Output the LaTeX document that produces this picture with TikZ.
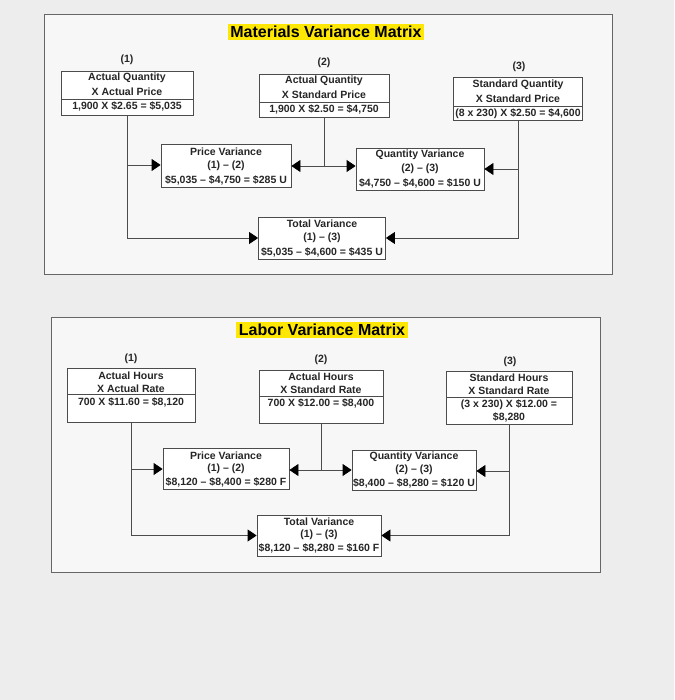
\documentclass[tikz,border=0pt]{standalone}
\usepackage{fontspec}
\setmainfont{Liberation Sans}
\usetikzlibrary{arrows.meta}
\begin{document}
\begin{tikzpicture}[x=1pt,y=-1pt,
  box/.style={draw=black!70,fill=white,line width=0.8pt,inner sep=0pt},
  frame/.style={draw=black!60,fill=white!97!black,line width=0.8pt},
  txt/.style={font=\fontsize{10.5}{12}\selectfont\bfseries,text=black!85,inner sep=0pt,align=center},
  ttl/.style={font=\fontsize{16}{18}\selectfont\bfseries,fill=yellow!90!orange,inner sep=2.5pt},
  conn/.style={draw=black!70,line width=0.8pt},
  arr/.style={conn,-{Triangle[length=9pt,width=12pt,fill=black,color=black]}}]
\useasboundingbox[fill=black!7] (0,0) rectangle (674,700);
% ================= Materials =================
\draw[frame] (44,14) rectangle (612,274);
\node[ttl] (mt) at (326,32) {Materials Variance Matrix};
\node[txt] (ml1) at (127,60) {(1)};
\node[txt] (ml2) at (324,63) {(2)};
\node[txt] (ml3) at (519,67) {(3)};
\node[box,minimum width=132,minimum height=44] (m1) at (127,93) {};
\draw[conn] (61,99) -- (193,99);
\node[txt] at (127,78) {Actual Quantity};
\node[txt] at (127,92) {X Actual Price};
\node[txt] at (127,106.5) {1,900 X \$2.65 = \$5,035};
\node[box,minimum width=130,minimum height=43] (m2) at (324,96) {};
\draw[conn] (259,102) -- (389,102);
\node[txt] at (324,81) {Actual Quantity};
\node[txt] at (324,95) {X Standard Price};
\node[txt] at (324,109.5) {1,900 X \$2.50 = \$4,750};
\node[box,minimum width=129,minimum height=43] (m3) at (518,99) {};
\draw[conn] (454,106) -- (583,106);
\node[txt] at (518,85) {Standard Quantity};
\node[txt] at (518,99) {X Standard Price};
\node[txt] at (518,113.5) {(8 x 230) X \$2.50 = \$4,600};
\node[box,minimum width=130,minimum height=43] (mp) at (226,166) {};
\node[txt] at (226,152) {Price Variance};
\node[txt] at (226,166) {(1) -- (2)};
\node[txt] at (226,180) {\$5,035 -- \$4,750 = \$285 U};
\node[box,minimum width=128,minimum height=42] (mq) at (420,169) {};
\node[txt] at (420,155) {Quantity Variance};
\node[txt] at (420,169) {(2) -- (3)};
\node[txt] at (420,183) {\$4,750 -- \$4,600 = \$150 U};
\node[box,minimum width=127,minimum height=42] (mtv) at (322,238) {};
\node[txt] at (322,224) {Total Variance};
\node[txt] at (322,238) {(1) -- (3)};
\node[txt] at (322,252) {\$5,035 -- \$4,600 = \$435 U};
\draw[arr] (m1.south) |- (mtv.west);
\draw[arr] (128,165) -- (mp.west|-0,165);
\draw[conn] (m2.south) -- (324,166) coordinate (mj);
\draw[arr] (mj) -- (mp.east|-mj);
\draw[arr] (mj) -- (mq.west|-mj);
\draw[arr] (m3.south) |- (mtv.east);
\draw[arr] (518,169) -- (mq.east);
% ================= Labor =================
\draw[frame] (51,317) rectangle (600,572);
\node[ttl] (lt) at (322,330) {Labor Variance Matrix};
\node[txt] (ll1) at (131,359) {(1)};
\node[txt] (ll2) at (321,360) {(2)};
\node[txt] (ll3) at (510,362) {(3)};
\node[box,minimum width=128,minimum height=54] (l1) at (131,395) {};
\draw[conn] (67,394) -- (195,394);
\node[txt] at (131,375.5) {Actual Hours};
\node[txt] at (131,388.5) {X Actual Rate};
\node[txt] at (131,402) {700 X \$11.60 = \$8,120};
\node[box,minimum width=124,minimum height=53] (l2) at (321,396.5) {};
\draw[conn] (259,396) -- (383,396);
\node[txt] at (321,377) {Actual Hours};
\node[txt] at (321,390) {X Standard Rate};
\node[txt] at (321,403.5) {700 X \$12.00 = \$8,400};
\node[box,minimum width=126,minimum height=53] (l3) at (509,397.5) {};
\draw[conn] (446,397) -- (572,397);
\node[txt] at (509,378) {Standard Hours};
\node[txt] at (509,391) {X Standard Rate};
\node[txt] at (509,404.5) {(3 x 230) X \$12.00 =};
\node[txt] at (509,417) {\$8,280};
\node[box,minimum width=126,minimum height=41] (lp) at (226,468.5) {};
\node[txt] at (226,456) {Price Variance};
\node[txt] at (226,469) {(1) -- (2)};
\node[txt] at (226,482) {\$8,120 -- \$8,400 = \$280 F};
\node[box,minimum width=124,minimum height=40] (lq) at (414,470) {};
\node[txt] at (414,457) {Quantity Variance};
\node[txt] at (414,470) {(2) -- (3)};
\node[txt] at (414,483) {\$8,400 -- \$8,280 = \$120 U};
\node[box,minimum width=124,minimum height=41] (ltv) at (319,535.5) {};
\node[txt] at (319,522) {Total Variance};
\node[txt] at (319,535) {(1) -- (3)};
\node[txt] at (319,548) {\$8,120 -- \$8,280 = \$160 F};
\draw[arr] (l1.south) |- (ltv.west);
\draw[arr] (131,469) -- (lp.west|-0,469);
\draw[conn] (l2.south) -- (321,470) coordinate (lj);
\draw[arr] (lj) -- (lp.east|-lj);
\draw[arr] (lj) -- (lq.west|-lj);
\draw[arr] (l3.south) |- (ltv.east);
\draw[arr] (509,471) -- (lq.east|-0,471);
\end{tikzpicture}
\end{document}
